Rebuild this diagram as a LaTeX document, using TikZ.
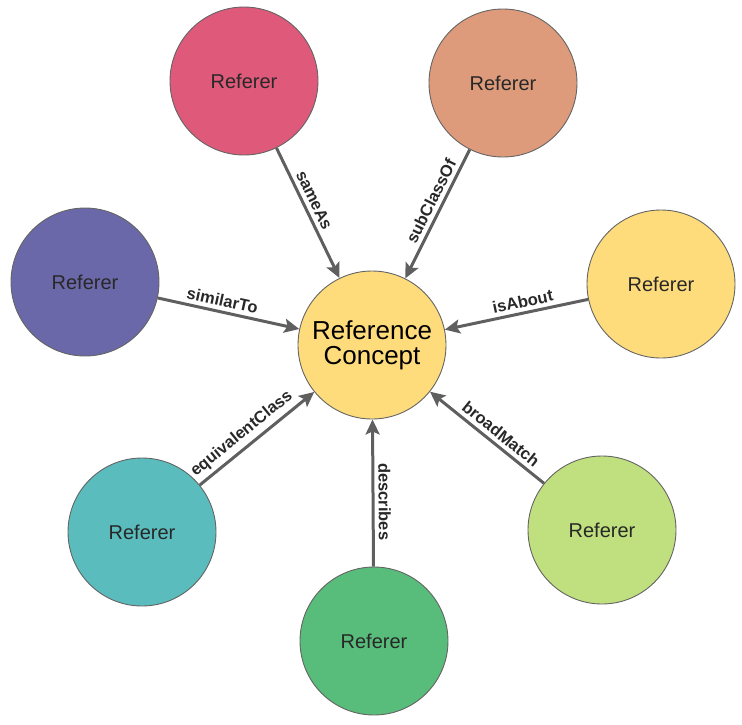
\documentclass[tikz,border=0pt]{standalone}
\usepackage{fontspec}
\setmainfont{Liberation Sans}
\usetikzlibrary{arrows.meta}
\definecolor{rose}{RGB}{223,89,122}
\definecolor{salmon}{RGB}{222,155,123}
\definecolor{iris}{RGB}{106,104,168}
\definecolor{sun}{RGB}{254,220,124}
\definecolor{teal}{RGB}{91,188,189}
\definecolor{meadow}{RGB}{88,188,122}
\definecolor{lime}{RGB}{192,223,126}
\definecolor{ringgray}{RGB}{100,100,100}
\definecolor{edgegray}{RGB}{95,95,95}
\definecolor{labelgray}{RGB}{40,40,40}
\tikzset{
  referer/.style={circle,draw=ringgray,line width=0.9pt,minimum size=148pt,inner sep=0pt,
    font=\fontsize{20}{22}\selectfont,text=labelgray},
  relation/.style={draw=edgegray,line width=3pt,-{Stealth[length=15pt,width=14pt,inset=3pt]}},
  rellabel/.style={pos=0.44,above,sloped,inner sep=4pt,font=\fontsize{16.5}{18}\selectfont\bfseries,text=labelgray}
}
\begin{document}
\begin{tikzpicture}[x=1pt,y=-1pt]
    \useasboundingbox (0,0) rectangle (742,724);
    % concept in the middle
    \node[referer,fill=sun,text=black,align=center,font=\fontsize{26}{25}\selectfont] (concept) at (372,345) {Reference\\Concept};
    % referers round it
    \foreach \n/\x/\y/\c in {same/244/81/rose,sub/503/83/salmon,similar/85/282/iris,about/661/284/sun,
      equiv/142/532/teal,desc/374/641/meadow,broad/602/530/lime}
      \node[referer,fill=\c] (\n) at (\x,\y) {Referer};
    % relations
    \foreach \n/\r in {same/sameAs,sub/subClassOf,similar/similarTo,about/isAbout,
      equiv/equivalentClass,desc/describes,broad/broadMatch}
      \draw[relation] (\n) -- (concept) node[rellabel] {\r};
\end{tikzpicture}
\end{document}
